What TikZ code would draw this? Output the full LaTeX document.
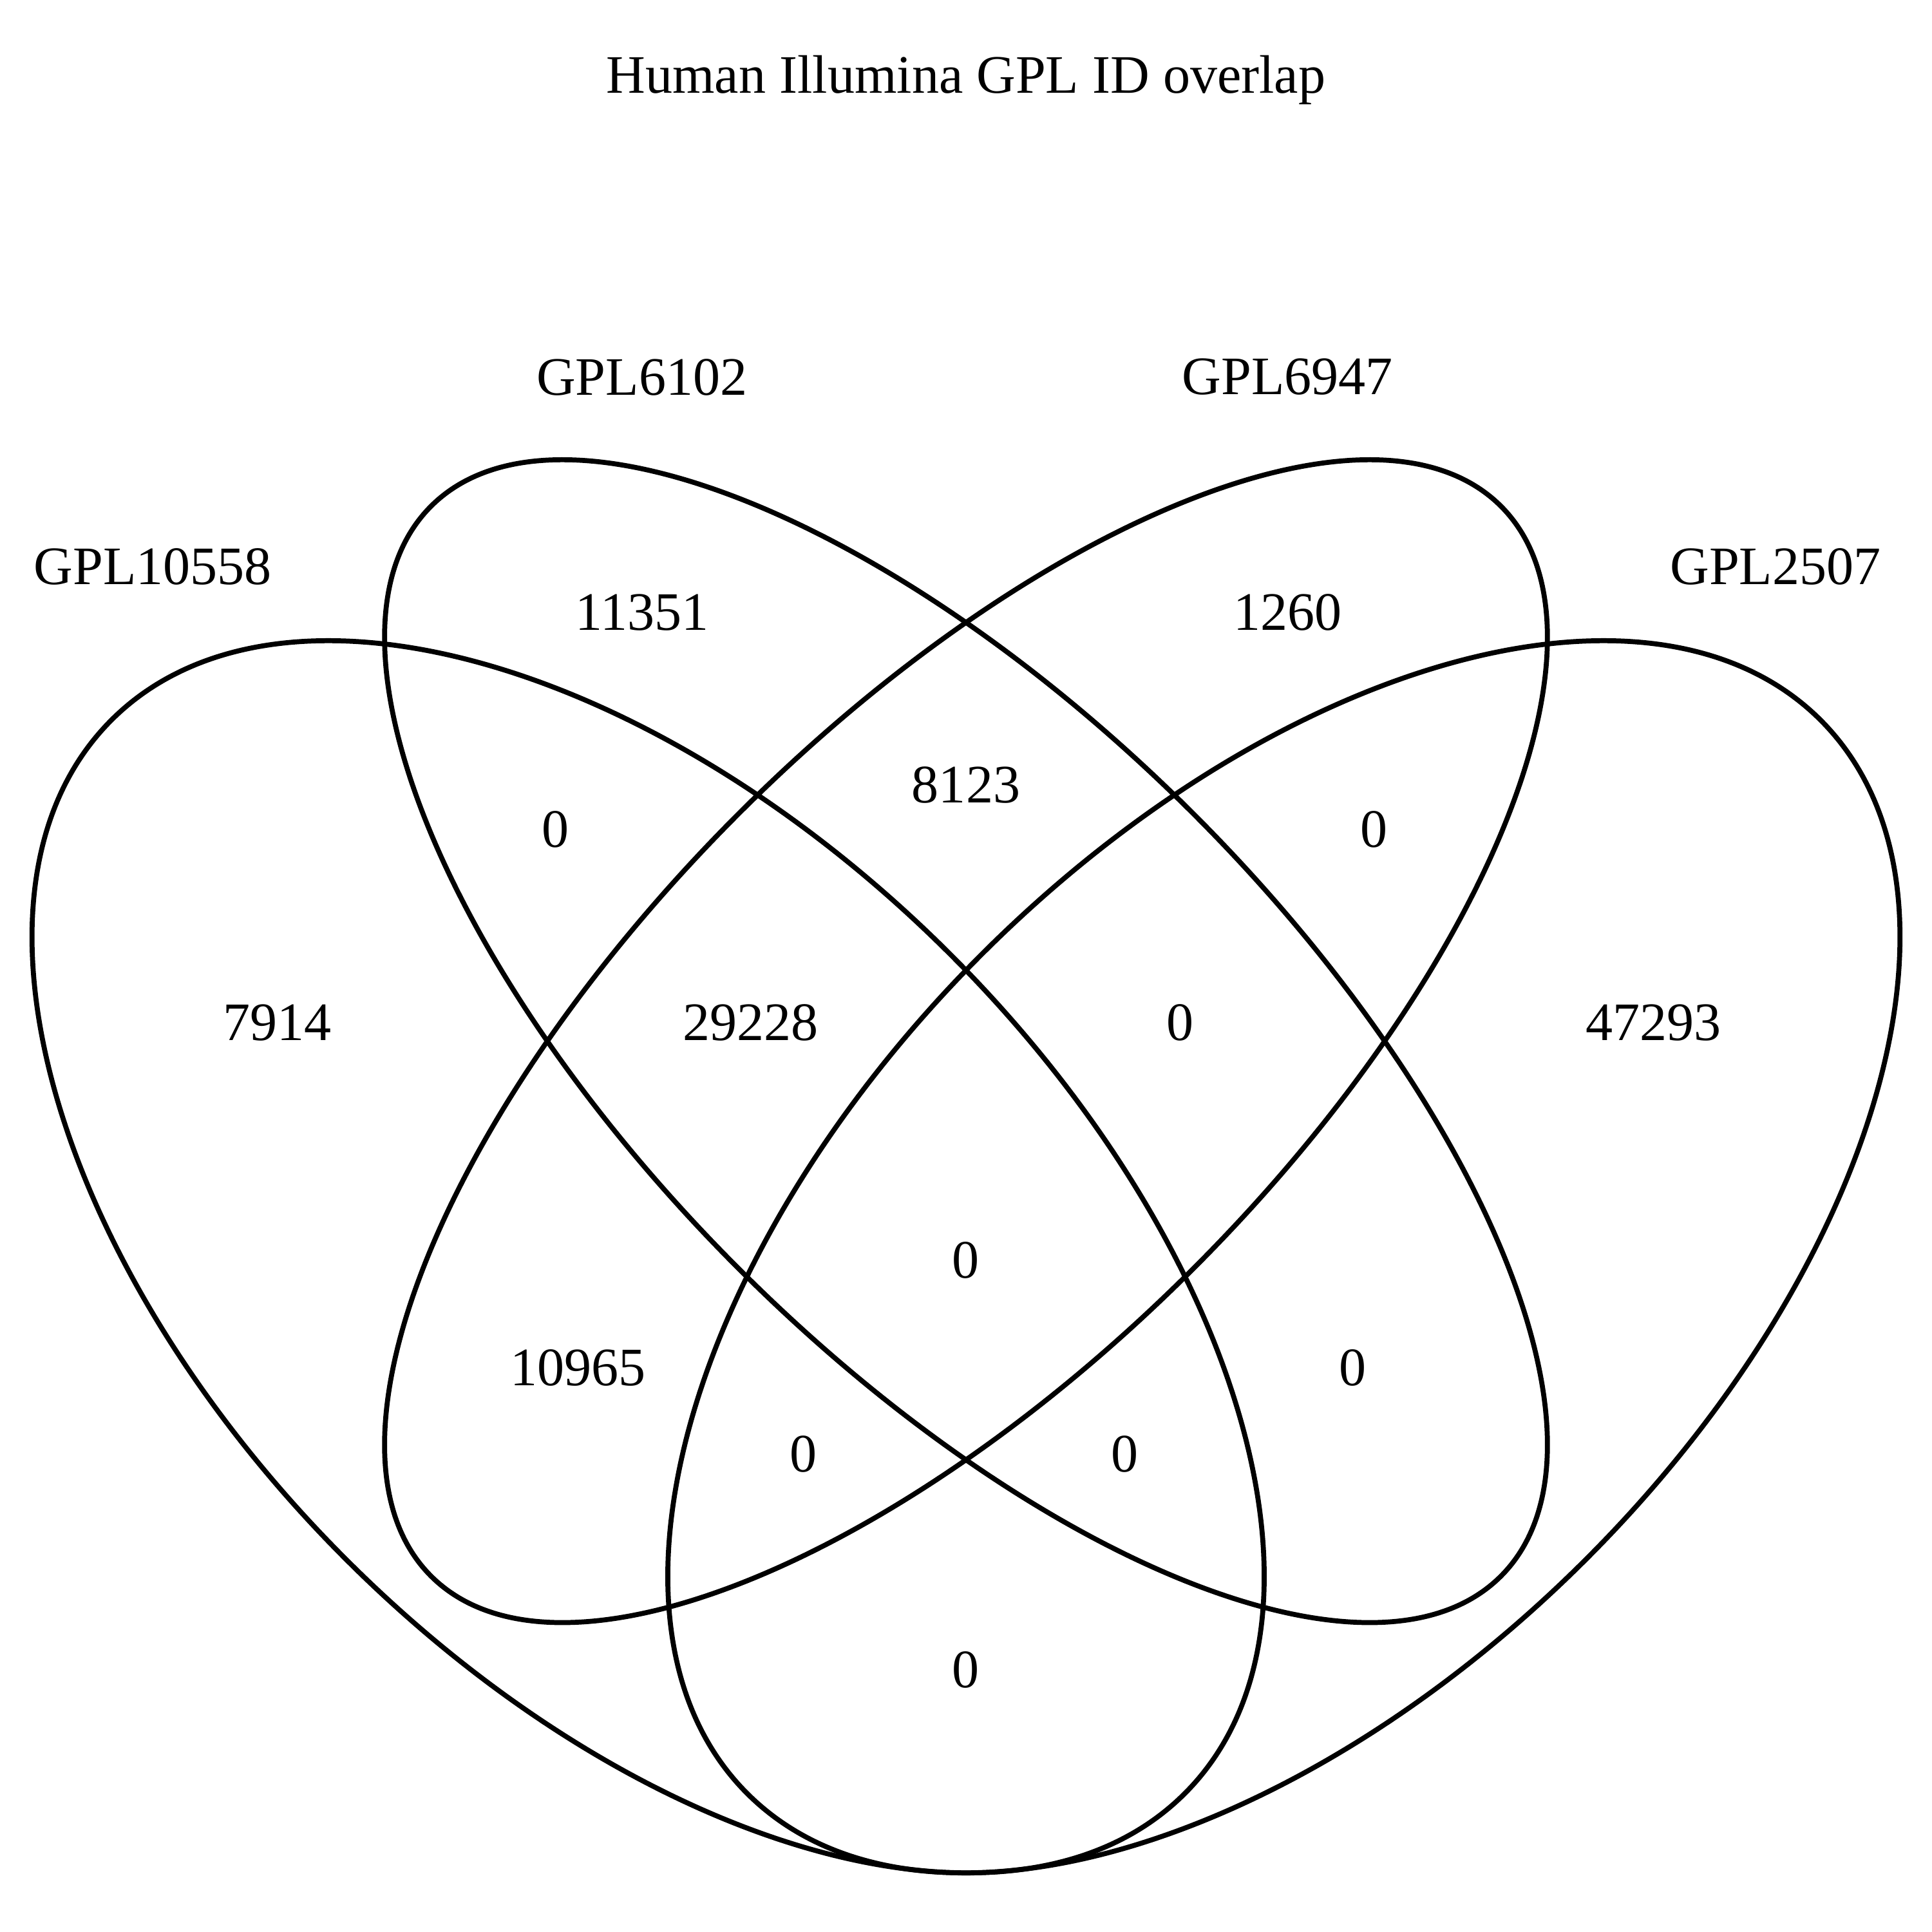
\documentclass[tikz,border=0pt]{standalone}
\usepackage{fontspec}
\setmainfont{Liberation Serif}
\begin{document}
\begin{tikzpicture}[x=0.01cm,y=0.01cm,
  venn/.style={line width=1.15pt},
  lbl/.style={font=\fontsize{12.5}{14}\selectfont, inner sep=0pt}]
\useasboundingbox (0,0) rectangle (1568,1568);
\draw[venn,shift={(526,548)},rotate=-45] (0,0) ellipse [x radius=616, y radius=347];
\draw[venn,shift={(784,723)},rotate=-45] (0,0) ellipse [x radius=614, y radius=261];
\draw[venn,shift={(784,723)},rotate=45] (0,0) ellipse [x radius=614, y radius=261];
\draw[venn,shift={(1042,548)},rotate=45] (0,0) ellipse [x radius=616, y radius=347];
\node[lbl] (title) at (784,1503) {Human Illumina GPL ID overlap};
\node[lbl] (s2) at (521,1262) {GPL6102};
\node[lbl] (s3) at (1045,1262) {GPL6947};
\node[lbl] (s1) at (124,1108) {GPL10558};
\node[lbl] (s4) at (1441,1108) {GPL2507};
\node[lbl] (a) at (521,1071) {11351};
\node[lbl] (b) at (1045,1071) {1260};
\node[lbl] (c) at (784,931) {8123};
\node[lbl] (d) at (451,895) {0};
\node[lbl] (e) at (1115,895) {0};
\node[lbl] (f) at (225,738) {7914};
\node[lbl] (g) at (609,738) {29228};
\node[lbl] (h) at (958,738) {0};
\node[lbl] (i) at (1342,738) {47293};
\node[lbl] (j) at (784,545) {0};
\node[lbl] (k) at (469,458) {10965};
\node[lbl] (l) at (1098,458) {0};
\node[lbl] (m) at (652,388) {0};
\node[lbl] (n) at (913,388) {0};
\node[lbl] (o) at (784,213) {0};
\end{tikzpicture}
\end{document}
